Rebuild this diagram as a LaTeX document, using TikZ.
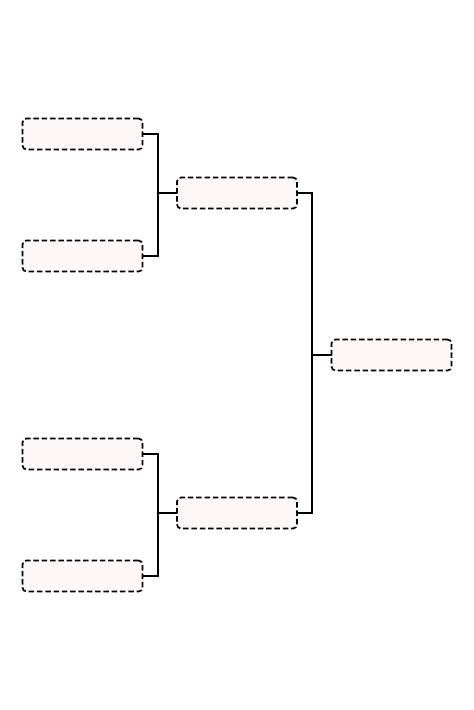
\documentclass[tikz,border=0pt]{standalone}
\definecolor{boxfill}{HTML}{FDF7F7}
\begin{document}
\begin{tikzpicture}[x=1pt,y=-1pt,
  slot/.style={draw=black, fill=boxfill, line width=1.7pt, dash pattern=on 5.5pt off 2.8pt,
    rounded corners=4pt, minimum width=120pt, minimum height=31pt, inner sep=0pt, outer sep=0pt},
  link/.style={draw=black, line width=1.6pt}]
\useasboundingbox (0,0) rectangle (474,710);
\node[slot] (l1) at (82.5,134) {};
\node[slot] (l2) at (82.5,256) {};
\node[slot] (l3) at (82.5,454) {};
\node[slot] (l4) at (82.5,576) {};
\node[slot] (m1) at (237,193) {};
\node[slot] (m2) at (237,513) {};
\node[slot] (f) at (391.5,355) {};
\coordinate (j1) at (158,193);
\coordinate (j2) at (158,513);
\coordinate (j3) at (312,355);
\draw[link] (l1.east) -| (j1) |- (l2.east);
\draw[link] (j1) -- (m1.west);
\draw[link] (l3.east) -| (j2) |- (l4.east);
\draw[link] (j2) -- (m2.west);
\draw[link] (m1.east) -| (j3) |- (m2.east);
\draw[link] (j3) -- (f.west);
\end{tikzpicture}
\end{document}
